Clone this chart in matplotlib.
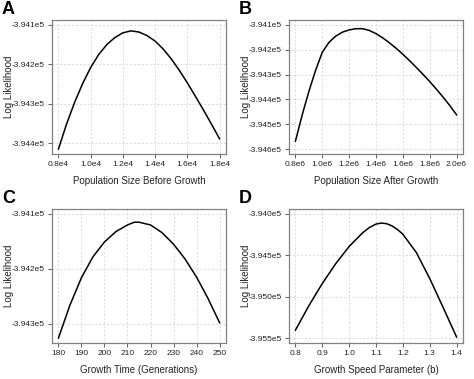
import matplotlib.pyplot as plt
import numpy as np

plt.rcParams['font.family'] = ['Liberation Sans', 'DejaVu Sans']

# A: population size before growth
a_x = [0.8e4, 0.85e4, 0.9e4, 0.95e4, 1.0e4, 1.05e4, 1.1e4, 1.15e4, 1.2e4, 1.25e4,
       1.3e4, 1.35e4, 1.4e4, 1.45e4, 1.5e4, 1.55e4, 1.6e4, 1.65e4, 1.7e4, 1.75e4, 1.8e4]
a_y = [-394415, -394352, -394297, -394249, -394208, -394175, -394150, -394132, -394120,
       -394115, -394118, -394127, -394141, -394161, -394186, -394215, -394247, -394281,
       -394316, -394352, -394389]
a_ticks = [0.8e4, 1.0e4, 1.2e4, 1.4e4, 1.6e4, 1.8e4]
a_ticklabels = ['0.8e4', '1.0e4', '1.2e4', '1.4e4', '1.6e4', '1.8e4']
a_yticks = [-394100, -394200, -394300, -394400]
a_yticklabels = ['-3.941e5', '-3.942e5', '-3.943e5', '-3.944e5']

# B: population size after growth
b_x = [0.8e6, 0.85e6, 0.9e6, 0.95e6, 1.0e6, 1.05e6, 1.1e6, 1.15e6, 1.2e6, 1.25e6,
       1.3e6, 1.35e6, 1.4e6, 1.45e6, 1.5e6, 1.55e6, 1.6e6, 1.65e6, 1.7e6, 1.75e6,
       1.8e6, 1.85e6, 1.9e6, 1.95e6, 2.0e6]
b_y = [-394568, -394463, -394368, -394283, -394210, -394170, -394145, -394129, -394120,
       -394115, -394115, -394122, -394135, -394152, -394172, -394194, -394218, -394244,
       -394271, -394299, -394328, -394359, -394391, -394425, -394462]
b_ticks = [0.8e6, 1.0e6, 1.2e6, 1.4e6, 1.6e6, 1.8e6, 2.0e6]
b_ticklabels = ['0.8e6', '1.0e6', '1.2e6', '1.4e6', '1.6e6', '1.8e6', '2.0e6']
b_yticks = [-394100, -394200, -394300, -394400, -394500, -394600]
b_yticklabels = ['-3.941e5', '-3.942e5', '-3.943e5', '-3.944e5', '-3.945e5', '-3.946e5']

# C: growth time
c_x = [180, 185, 190, 195, 200, 205, 210, 213, 215, 220, 225, 230, 235, 240, 245, 250]
c_y = [-394326, -394266, -394216, -394178, -394151, -394132, -394120, -394115, -394115,
       -394120, -394134, -394155, -394182, -394215, -394254, -394298]
c_ticks = [180, 190, 200, 210, 220, 230, 240, 250]
c_ticklabels = ['180', '190', '200', '210', '220', '230', '240', '250']
c_yticks = [-394100, -394200, -394300]
c_yticklabels = ['-3.941e5', '-3.942e5', '-3.943e5']

# D: growth speed parameter
d_x = [0.8, 0.85, 0.9, 0.95, 1.0, 1.05, 1.075, 1.1, 1.12, 1.14, 1.16, 1.18, 1.2,
       1.25, 1.3, 1.35, 1.4]
d_y = [-395404, -395109, -394841, -394601, -394393, -394228, -394165, -394122, -394110,
       -394118, -394145, -394188, -394245, -394465, -394780, -395130, -395488]
d_ticks = [0.8, 0.9, 1.0, 1.1, 1.2, 1.3, 1.4]
d_ticklabels = ['0.8', '0.9', '1.0', '1.1', '1.2', '1.3', '1.4']
d_yticks = [-394000, -394500, -395000, -395500]
d_yticklabels = ['-3.940e5', '-3.945e5', '-3.950e5', '-3.955e5']

panels = [
    ('A', a_x, a_y, a_ticks, a_ticklabels, a_yticks, a_yticklabels, 'Population Size Before Growth'),
    ('B', b_x, b_y, b_ticks, b_ticklabels, b_yticks, b_yticklabels, 'Population Size After Growth'),
    ('C', c_x, c_y, c_ticks, c_ticklabels, c_yticks, c_yticklabels, 'Growth Time (Generations)'),
    ('D', d_x, d_y, d_ticks, d_ticklabels, d_yticks, d_yticklabels, 'Growth Speed Parameter (b)'),
]

W, H = 474, 379
fig = plt.figure(figsize=(W / 100, H / 100), dpi=100)

boxes = [(52, 20), (289, 20), (52, 209), (289, 209)]
bw, bh = 174, 134

for (letter, x, y, xt, xtl, yt, ytl, xlabel), (left, top) in zip(panels, boxes):
    ax = fig.add_axes([left / W, 1 - (top + bh) / H, bw / W, bh / H])
    ax.plot(x, y, color='black', lw=1.1, solid_joinstyle='round')
    lo = min(min(y), min(yt))
    hi = max(max(y), max(yt))
    ax.set_ylim(lo - 0.04 * (hi - lo), hi + 0.04 * (hi - lo))
    xr = max(x) - min(x)
    ax.set_xlim(min(x) - 0.04 * xr, max(x) + 0.04 * xr)
    ax.set_xticks(xt)
    ax.set_xticklabels(xtl)
    ax.set_yticks(yt)
    ax.set_yticklabels(ytl)
    ax.grid(True, color='#d9d9d9', lw=0.7, ls=(0, (2, 2)))
    for s in ax.spines.values():
        s.set_color('#808080')
        s.set_linewidth(0.9)
    ax.tick_params(length=3, width=0.7, color='#606060', labelsize=6, pad=2,
                   labelcolor='#222222')
    ax.set_xlabel(xlabel, fontsize=7, color='#222222', va='center')
    ax.xaxis.set_label_coords(0.5, -27 / bh)
    ax.set_ylabel('Log Likelihood', fontsize=7, color='#222222', va='center')
    ax.yaxis.set_label_coords(-43 / bw, 0.5)
    fig.text((left - 50) / W, 1 - (top - 19) / H, letter, fontsize=13, fontweight='bold',
             ha='left', va='top')

fig.savefig('out.png', dpi=100)
